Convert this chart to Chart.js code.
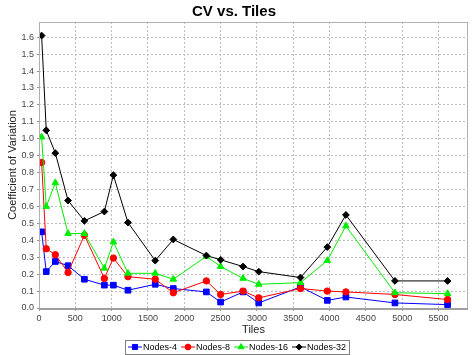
<!DOCTYPE html>
<html>
<head>
<meta charset="utf-8">
<script src="https://cdn.jsdelivr.net/npm/chart.js@4.4.1/dist/chart.umd.min.js"></script>
<style>
html,body{margin:0;padding:0;background:#fff;}
#wrap{width:474px;height:355px;}
</style>
</head>
<body>
<div id="wrap"><canvas id="c" width="474" height="355"></canvas></div>
<script>
const tiles = [36,100,225,400,625,900,1024,1225,1600,1849,2304,2500,2809,3025,3600,3969,4225,4900,5625];
const nodes4  = [0.45,0.215,0.275,0.25,0.17,0.135,0.135,0.105,0.14,0.115,0.095,0.035,0.095,0.03,0.125,0.045,0.065,0.03,0.02];
const nodes8  = [0.86,0.35,0.315,0.21,0.43,0.175,0.295,0.185,0.17,0.09,0.16,0.08,0.10,0.06,0.115,0.10,0.095,0.08,0.05];
const nodes16 = [1.01,0.60,0.74,0.44,0.44,0.235,0.39,0.205,0.205,0.17,0.305,0.245,0.175,0.14,0.15,0.28,0.485,0.09,0.085];
const nodes32 = [1.61,1.05,0.915,0.635,0.515,0.57,0.785,0.505,0.28,0.405,0.31,0.285,0.245,0.215,0.18,0.36,0.55,0.16,0.16];
const seriesNames = ['Nodes-4','Nodes-8','Nodes-16','Nodes-32'];
const seriesColors = ['#0000ff','#ff0000','#00ee00','#000000'];
const seriesStyles = ['rect','circle','triangle','rectRot'];
const seriesRadius = [4,3.2,3.8,3.4];
const xTickValues = [0,500,1000,1500,2000,2500,3000,3500,4000,4500,5000,5500];
const yTickValues = [0,0.1,0.2,0.3,0.4,0.5,0.6,0.7,0.8,0.9,1.0,1.1,1.2,1.3,1.4,1.5,1.6];

const seriesValues = [nodes4, nodes8, nodes16, nodes32];
const datasets = seriesValues.map((vals, i) => ({
  label: seriesNames[i],
  data: tiles.map((t, j) => ({x: t, y: vals[j]})),
  borderColor: seriesColors[i],
  backgroundColor: seriesColors[i],
  borderWidth: 1,
  pointStyle: seriesStyles[i],
  pointRadius: seriesRadius[i],
  pointBorderWidth: 1,
  pointHoverRadius: seriesRadius[i],
  tension: 0,
  fill: false,
  order: 4 - i
}));

function drawMarker(ctx, style, r, x, y, color){
  ctx.save();
  ctx.fillStyle = color; ctx.strokeStyle = color; ctx.lineWidth = 1;
  ctx.beginPath();
  if (style === 'rect') { const s = r * Math.SQRT1_2; ctx.rect(x - s, y - s, 2*s, 2*s); }
  else if (style === 'circle') { ctx.arc(x, y, r, 0, Math.PI*2); }
  else if (style === 'triangle') {
    ctx.moveTo(x, y - r); ctx.lineTo(x + r*0.866, y + r*0.5); ctx.lineTo(x - r*0.866, y + r*0.5); ctx.closePath();
  } else { ctx.moveTo(x, y - r); ctx.lineTo(x + r, y); ctx.lineTo(x, y + r); ctx.lineTo(x - r, y); ctx.closePath(); }
  ctx.fill(); ctx.stroke();
  ctx.restore();
}

const decor = {
  id: 'decor',
  beforeDraw(chart){
    const ctx = chart.ctx;
    ctx.save(); ctx.fillStyle = '#fff'; ctx.fillRect(0,0,chart.width,chart.height); ctx.restore();
  },
  afterDraw(chart){
    const ctx = chart.ctx, a = chart.chartArea;
    ctx.save();
    ctx.strokeStyle = '#b0b0b0'; ctx.lineWidth = 1;
    ctx.strokeRect(Math.round(a.left) + 0.5, Math.round(a.top) + 0.5, Math.round(a.right - a.left) - 1, Math.round(a.bottom - a.top));
    ctx.strokeStyle = '#a0a0a0'; ctx.lineWidth = 2;
    ctx.beginPath(); ctx.moveTo(a.left, Math.round(a.bottom) + 1); ctx.lineTo(a.right, Math.round(a.bottom) + 1); ctx.stroke();
    // legend
    ctx.font = '9px "Liberation Sans", Arial, sans-serif';
    ctx.textBaseline = 'middle';
    const lineLen = 14, gap = 1, spacing = 4, pad = 3;
    const widths = seriesNames.map(n => lineLen + gap + ctx.measureText(n).width);
    const total = widths.reduce((s,w)=>s+w,0) + spacing*(seriesNames.length-1) + pad*2;
    let x = Math.round(chart.width/2 - total/2);
    const top = 340, h = 14, cy = top + h/2;
    ctx.strokeStyle = '#808080'; ctx.lineWidth = 1;
    ctx.strokeRect(x + 0.5, top + 0.5, Math.round(total), h);
    x += pad;
    seriesNames.forEach((n, i) => {
      ctx.strokeStyle = seriesColors[i]; ctx.lineWidth = 1;
      ctx.beginPath(); ctx.moveTo(x, cy); ctx.lineTo(x + lineLen, cy); ctx.stroke();
      drawMarker(ctx, seriesStyles[i], seriesRadius[i]*0.9, x + lineLen/2, cy, seriesColors[i]);
      ctx.fillStyle = '#000';
      ctx.fillText(n, x + lineLen + gap, cy + 0.5);
      x += widths[i] + spacing;
    });
    ctx.restore();
  }
};

const tickFont = {family: '"Liberation Sans", Arial, sans-serif', size: 9};
new Chart(document.getElementById('c'), {
  type: 'line',
  data: { datasets },
  plugins: [decor],
  options: {
    responsive: false,
    animation: false,
    events: [],
    layout: { padding: { left: 0, right: 6, top: 0, bottom: 18 } },
    plugins: {
      legend: { display: false },
      tooltip: { enabled: false },
      title: {
        display: true, text: 'CV vs. Tiles', color: '#000',
        font: { family: '"Liberation Sans", Arial, sans-serif', size: 15, weight: 'bold' },
        padding: { top: 3, bottom: 1 }
      }
    },
    scales: {
      x: {
        type: 'linear', min: 0, max: 5906,
        afterBuildTicks(scale){ scale.ticks = xTickValues.map(v => ({value: v})); },
        ticks: { color: '#444', font: tickFont, padding: 2, maxRotation: 0, autoSkip: false, callback: v => String(v) },
        grid: { color: '#bdbdbd', lineWidth: 1, tickLength: 3, tickColor: '#909090', tickBorderDash: [], dash: [2,2] },
        border: { display: false, dash: [2,2] },
        title: { display: true, text: 'Tiles', color: '#222', font: { family: '"Liberation Sans", Arial, sans-serif', size: 11 }, padding: { top: 0, bottom: 0 } },
        afterFit(scale){ scale.height = 29; }
      },
      y: {
        type: 'linear', min: 0, max: 1.69,
        afterBuildTicks(scale){ scale.ticks = yTickValues.map(v => ({value: v})); },
        ticks: { color: '#444', font: tickFont, padding: 3, autoSkip: false,
          callback: v => Number(v).toFixed(1) },
        grid: { color: '#bdbdbd', lineWidth: 1, tickLength: 2, tickColor: '#909090', tickBorderDash: [], dash: [2,2] },
        border: { display: false, dash: [2,2] },
        title: { display: true, text: 'Coefficient of Variation', color: '#222', font: { family: '"Liberation Sans", Arial, sans-serif', size: 11 }, padding: { top: 6, bottom: 0 } },
        afterFit(scale){ scale.width = 39; }
      }
    }
  }
});
</script>
</body>
</html>
